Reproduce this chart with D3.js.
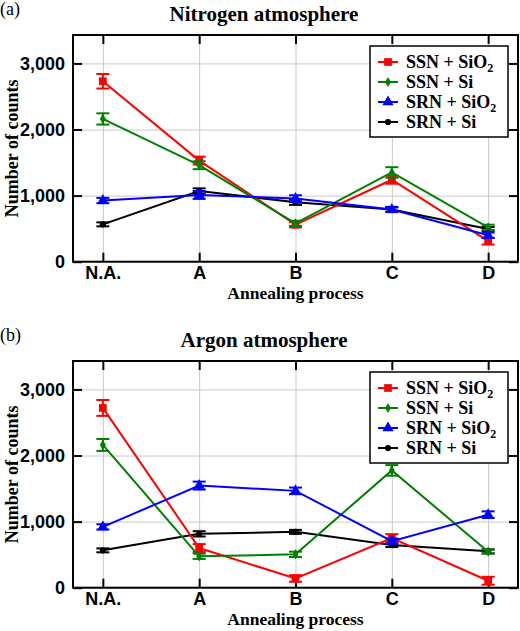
<!DOCTYPE html>
<html>
<head>
<meta charset="utf-8">
<script src="https://cdn.jsdelivr.net/npm/d3@7"></script>
<style>
  body { margin: 0; background: #fff; }
  svg { display: block; font-family: "Liberation Serif", "DejaVu Serif", serif; }
  .grid line { stroke: #c8c8c8; stroke-width: 1; }
  .grid .domain { display: none; }
  .axis .domain { display: none; }
  .axis line { stroke: #000; stroke-width: 2; }
  .axis text { font-size: 18px; font-weight: bold; fill: #000; }
</style>
</head>
<body>
<svg id="svg" width="520" height="631"></svg>
<script>
// categories and tick values
var categories = ["N.A.", "A", "B", "C", "D"];
var yTicks = [0, 1000, 2000, 3000];
var seriesNames = ["SSN + SiO2", "SSN + Si", "SRN + SiO2", "SRN + Si"];

// nitrogen atmosphere (panel a)
var ssnSiO2N = [2730, 1530, 560, 1240, 310];
var ssnSiO2NErr = [110, 60, 40, 60, 50];
var ssnSiN = [2160, 1460, 580, 1350, 520];
var ssnSiNErr = [85, 60, 40, 80, 40];
var srnSiO2N = [925, 1010, 955, 790, 400];
var srnSiO2NErr = [40, 60, 50, 40, 40];
var srnSiN = [565, 1070, 900, 790, 495];
var srnSiNErr = [30, 40, 40, 30, 30];

// argon atmosphere (panel b)
var ssnSiO2Ar = [2720, 600, 140, 750, 105];
var ssnSiO2ArErr = [120, 60, 50, 60, 60];
var ssnSiAr = [2160, 475, 505, 1775, 545];
var ssnSiArErr = [90, 40, 40, 80, 30];
var srnSiO2Ar = [920, 1545, 1465, 705, 1105];
var srnSiO2ArErr = [40, 60, 50, 40, 50];
var srnSiAr = [565, 815, 845, 645, 550];
var srnSiArErr = [30, 40, 30, 30, 30];

var colors = ["#ff0000", "#008000", "#0000ff", "#000000"];
var symbols = [d3.symbolSquare, d3.symbolDiamond, d3.symbolTriangle, d3.symbolCircle];
var symbolSizes = [60, 30, 55, 30];

var svg = d3.select("svg");
var margin = {left: 73, top: 35},
    width = 445,
    height = 226.7;

var x = d3.scalePoint()
    .domain(categories)
    .range([0, width])
    .padding(0.31);

var y = d3.scaleLinear()
    .domain([0, 3430])
    .range([height, 0]);

/**
 * draws one panel of the figure
 * @offsetY vertical shift of the panel
 */
function draw_panel(offsetY, letter, title, series, errors) {
    var top = svg.append("g").attr("transform", "translate(0," + offsetY + ")");

    // panel letter and title
    top.append("text")
        .attr("x", 0).attr("y", 15)
        .style("font-size", "18px")
        .text(letter);
    top.append("text")
        .attr("x", 264).attr("y", 21)
        .attr("text-anchor", "middle")
        .style("font-size", "21px").style("font-weight", "bold")
        .text(title);

    var g = top.append("g").attr("transform", "translate(" + margin.left + "," + margin.top + ")");

    // grid
    g.append("g").attr("class", "grid")
        .call(d3.axisLeft(y).tickValues(yTicks).tickSize(-width).tickFormat(""));
    g.append("g").attr("class", "grid")
        .call(d3.axisBottom(x).tickSize(height).tickFormat(""));

    // axes with inward ticks
    g.append("g").attr("class", "axis")
        .call(d3.axisLeft(y).tickValues(yTicks).tickSizeInner(-9).tickSizeOuter(0)
            .tickPadding(8).tickFormat(d3.format(",")));
    g.append("g").attr("class", "axis")
        .attr("transform", "translate(" + width + ",0)")
        .call(d3.axisRight(y).tickValues(yTicks).tickSizeInner(-9).tickSizeOuter(0).tickFormat(""));
    g.append("g").attr("class", "axis")
        .attr("transform", "translate(0," + height + ")")
        .call(d3.axisBottom(x).tickSizeInner(-9).tickSizeOuter(0).tickPadding(5));
    g.append("g").attr("class", "axis")
        .call(d3.axisTop(x).tickSizeInner(-9).tickSizeOuter(0).tickFormat(""));

    // frame
    g.append("rect")
        .attr("width", width).attr("height", height)
        .attr("fill", "none").attr("stroke", "#000").attr("stroke-width", 2);

    // axis labels
    g.append("text")
        .attr("x", width / 2).attr("y", height + 37.5)
        .attr("text-anchor", "middle")
        .style("font-size", "17.5px").style("font-weight", "bold")
        .text("Annealing process");
    g.append("text")
        .attr("transform", "translate(" + (18 - margin.left) + "," + (height / 2) + ") rotate(-90)")
        .attr("text-anchor", "middle")
        .style("font-size", "18px").style("font-weight", "bold")
        .text("Number of counts");

    var line = d3.line()
        .x(function (d, i) { return x(categories[i]); })
        .y(function (d) { return y(d); });

    // draw order: black, red, green, blue
    [3, 0, 1, 2].forEach(function (s) {
        var data = series[s], err = errors[s];
        g.append("path")
            .datum(data)
            .attr("fill", "none")
            .attr("stroke", colors[s])
            .attr("stroke-width", 2)
            .attr("d", line);

        var eb = g.append("g").attr("stroke", colors[s]).attr("stroke-width", 2);
        data.forEach(function (v, i) {
            var cx = x(categories[i]);
            eb.append("line")
                .attr("x1", cx).attr("x2", cx)
                .attr("y1", y(v + err[i])).attr("y2", y(v - err[i]));
            eb.append("line")
                .attr("x1", cx - 6.5).attr("x2", cx + 6.5)
                .attr("y1", y(v + err[i])).attr("y2", y(v + err[i]));
            eb.append("line")
                .attr("x1", cx - 6.5).attr("x2", cx + 6.5)
                .attr("y1", y(v - err[i])).attr("y2", y(v - err[i]));
        });

        g.selectAll(null)
            .data(data)
            .enter().append("path")
            .attr("transform", function (d, i) {
                return "translate(" + x(categories[i]) + "," + y(d) + ")";
            })
            .attr("d", d3.symbol().type(symbols[s]).size(symbolSizes[s]))
            .attr("fill", colors[s]);
    });

    // legend
    var lg = g.append("g").attr("transform", "translate(" + (370 - margin.left) + ",11)");
    lg.append("rect")
        .attr("width", 138).attr("height", 91)
        .attr("fill", "#fff").attr("stroke", "#000").attr("stroke-width", 1.5);
    seriesNames.forEach(function (name, s) {
        var row = lg.append("g").attr("transform", "translate(0," + (16 + s * 20) + ")");
        row.append("line")
            .attr("x1", 8).attr("x2", 28)
            .attr("stroke", colors[s]).attr("stroke-width", 2);
        row.append("path")
            .attr("transform", "translate(18,0)")
            .attr("d", d3.symbol().type(symbols[s]).size(symbolSizes[s]))
            .attr("fill", colors[s]);
        var t = row.append("text")
            .attr("x", 36).attr("y", 6)
            .style("font-size", "18px").style("font-weight", "bold");
        if (name.slice(-1) == "2") {
            t.append("tspan").text(name.slice(0, -1));
            t.append("tspan").attr("dy", 4).style("font-size", "12px").text("2");
        } else {
            t.text(name);
        }
    });
}

draw_panel(0, "(a)", "Nitrogen atmosphere",
    [ssnSiO2N, ssnSiN, srnSiO2N, srnSiN],
    [ssnSiO2NErr, ssnSiNErr, srnSiO2NErr, srnSiNErr]);
draw_panel(326, "(b)", "Argon atmosphere",
    [ssnSiO2Ar, ssnSiAr, srnSiO2Ar, srnSiAr],
    [ssnSiO2ArErr, ssnSiArErr, srnSiO2ArErr, srnSiArErr]);
</script>
</body>
</html>
